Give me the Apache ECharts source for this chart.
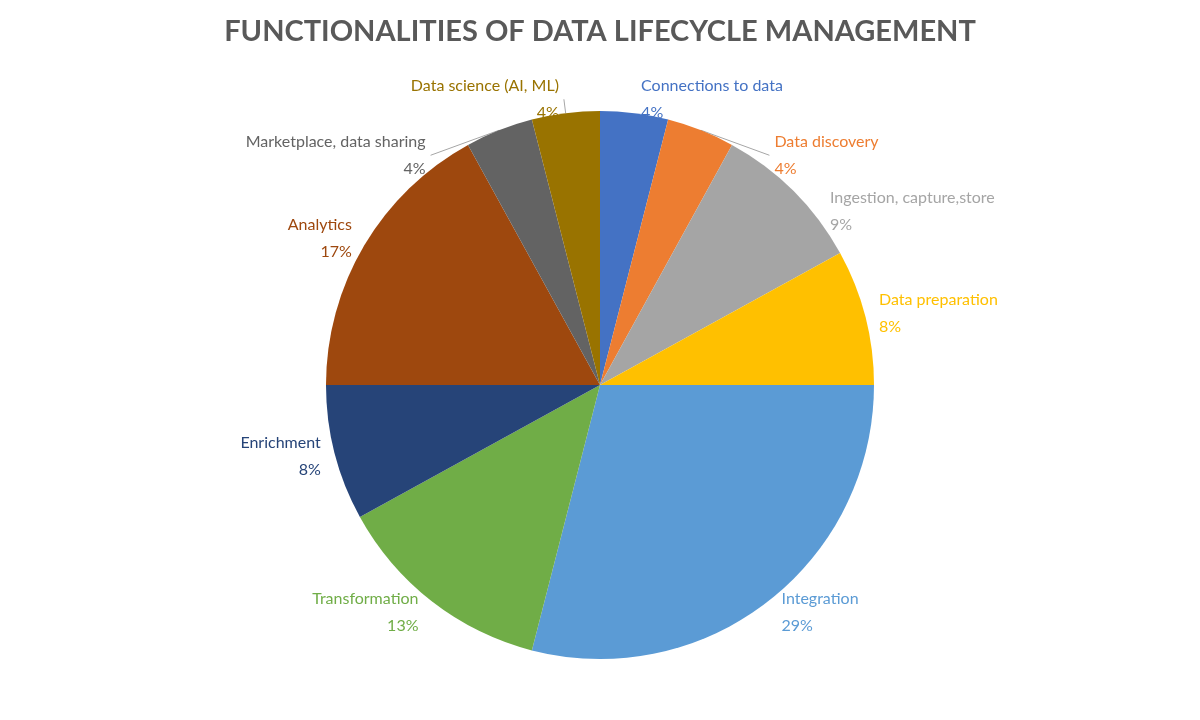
<!DOCTYPE html>
<html><head><meta charset="utf-8">
<script src="https://cdn.jsdelivr.net/npm/echarts@6/dist/echarts.min.js"></script>
<style>html,body{margin:0;background:#fff}#c{width:1200px;height:720px}</style>
</head><body><div id="c"></div>
<script>
const categories = ['Connections to data', 'Data discovery', 'Ingestion, capture,store', 'Data preparation',
  'Integration', 'Transformation', 'Enrichment', 'Analytics', 'Marketplace, data sharing', 'Data science (AI, ML)'];
const values = [4, 4, 9, 8, 29, 13, 8, 17, 4, 4];
const colors = ['#4472c4', '#ed7d31', '#a5a5a5', '#ffc000', '#5b9bd5', '#70ad47', '#264478', '#9e480e', '#636363', '#997300'];
const withLine = [false, true, false, false, false, false, false, false, true, true];

const chart = echarts.init(document.getElementById('c'));
chart.setOption({
  title: {
    text: 'FUNCTIONALITIES OF DATA LIFECYCLE MANAGEMENT', left: 'center', top: 12,
    textStyle: { fontFamily: 'Lato', fontSize: 29, fontWeight: 'bold', color: '#595959' }
  },
  series: [{
    type: 'pie',
    center: [600, 385],
    radius: 274,
    startAngle: 90,
    animation: false,
    itemStyle: { borderColor: '#fff', borderWidth: 0 },
    label: {
      position: 'outside', fontFamily: 'Lato', fontSize: 16, lineHeight: 27,
      align: 'center', formatter: '{b}\n{d}%'
    },
    labelLine: { length: 14, length2: 0, lineStyle: { color: '#a6a6a6' } },
    data: categories.map((name, i) => ({
      name, value: values[i],
      itemStyle: { color: colors[i] },
      label: { color: colors[i] },
      labelLine: { show: withLine[i] }
    }))
  }]
});
</script></body></html>
